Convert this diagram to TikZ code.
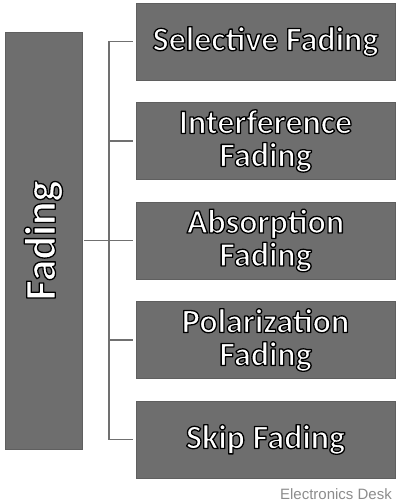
\documentclass[tikz,border=0pt]{standalone}
\usepackage{fontspec}
\newfontfamily\boxfont{Carlito}
\newfontfamily\creditfont{Liberation Sans}
\usetikzlibrary{shapes.geometric, arrows, calc}
\definecolor{boxgrey}{RGB}{110,110,110}
\definecolor{edgegrey}{RGB}{95,95,95}
\definecolor{linkgrey}{RGB}{112,112,112}
\definecolor{creditgrey}{RGB}{140,140,140}
% white letters with a dark rim (fill, then stroke)
\newcommand\rimmed[1]{%
  \special{pdf:literal direct 0 G 1.3 w 1 j 2 Tr}#1\special{pdf:literal direct 0 Tr}}
\begin{document}
\begin{tikzpicture}[x=1pt,y=1pt]
    \tikzstyle{root} = [rectangle, rotate=90, minimum width=417pt, minimum height=77pt, fill=boxgrey, draw=edgegrey, text=white, font=\boxfont\bfseries\fontsize{44}{44}\selectfont]
    \tikzstyle{branch} = [rectangle, minimum width=259pt, minimum height=77pt, fill=boxgrey, draw=edgegrey, text=white, align=center, inner sep=0pt, font=\boxfont\bfseries\fontsize{34}{33}\selectfont]
    \tikzstyle{link} = [line width=1.5pt, draw=linkgrey]
    \useasboundingbox (0,0) rectangle (400,-502);

    \node (fading) [root] at (43.5,-240.5) {\rimmed{Fading}};
    \node (selective) [branch] at (265.5,-41.5) {\rimmed{Selective Fading}};
    \node (interference) [branch, below of=selective, node distance=99.5pt] {\rimmed{Interference}\\\rimmed{Fading}};
    \node (absorption) [branch, below of=interference, node distance=99.5pt] {\rimmed{Absorption}\\\rimmed{Fading}};
    \node (polarization) [branch, below of=absorption, node distance=99.5pt] {\rimmed{Polarization}\\\rimmed{Fading}};
    \node (skip) [branch, below of=polarization, node distance=99.5pt] {\rimmed{Skip Fading}};
    \node (credit) [anchor=base east, text=creditgrey, inner sep=0pt, font=\creditfont\fontsize{15}{18}\selectfont] at (392,-499) {Electronics Desk};

    \coordinate (bus) at (109,-240.5);
    \draw [link, shorten <=2pt] (fading.south) -- (bus);
    \draw [link, line cap=rect] (bus |- selective) -- (bus |- skip);
    \draw [link, shorten >=3pt] (bus |- selective) -- (selective);
    \draw [link, shorten >=3pt] (bus |- interference) -- (interference);
    \draw [link, shorten >=3pt] (bus |- absorption) -- (absorption);
    \draw [link, shorten >=3pt] (bus |- polarization) -- (polarization);
    \draw [link, shorten >=3pt] (bus |- skip) -- (skip);
\end{tikzpicture}
\end{document}
